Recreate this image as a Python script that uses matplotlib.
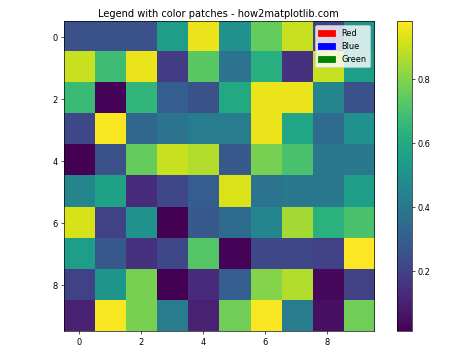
import numpy as np
import matplotlib.pyplot as plt
import matplotlib.patches as mpatches

# cell values
row0 = [0.25, 0.25, 0.25, 0.55, 0.95, 0.50, 0.75, 0.90, 0.20, 0.52]
row1 = [0.90, 0.68, 0.95, 0.18, 0.73, 0.38, 0.62, 0.15, 0.90, 0.55]
row2 = [0.67, 0.02, 0.65, 0.30, 0.25, 0.60, 0.95, 0.95, 0.45, 0.25]
row3 = [0.22, 0.97, 0.33, 0.38, 0.42, 0.42, 0.95, 0.58, 0.35, 0.50]
row4 = [0.01, 0.25, 0.75, 0.90, 0.87, 0.28, 0.78, 0.70, 0.40, 0.40]
row5 = [0.45, 0.57, 0.13, 0.22, 0.30, 0.93, 0.38, 0.40, 0.40, 0.55]
row6 = [0.92, 0.20, 0.50, 0.01, 0.28, 0.35, 0.45, 0.85, 0.63, 0.70]
row7 = [0.55, 0.28, 0.15, 0.22, 0.72, 0.02, 0.22, 0.22, 0.20, 0.98]
row8 = [0.20, 0.52, 0.78, 0.01, 0.13, 0.30, 0.80, 0.87, 0.03, 0.20]
row9 = [0.10, 0.97, 0.78, 0.42, 0.10, 0.77, 0.97, 0.42, 0.05, 0.77]

labels = ['Red', 'Blue', 'Green']
colors = ['red', 'blue', 'green']

data = np.array([row0, row1, row2, row3, row4, row5, row6, row7, row8, row9])

fig, ax = plt.subplots(figsize=(8, 6), dpi=59.25)
im = ax.imshow(data, cmap='viridis')
plt.colorbar(im)

handles = [mpatches.Patch(color=c, label=l) for c, l in zip(colors, labels)]
ax.legend(handles=handles, loc='upper right')
ax.set_title('Legend with color patches - how2matplotlib.com')

plt.tight_layout()
plt.savefig('out.png')
